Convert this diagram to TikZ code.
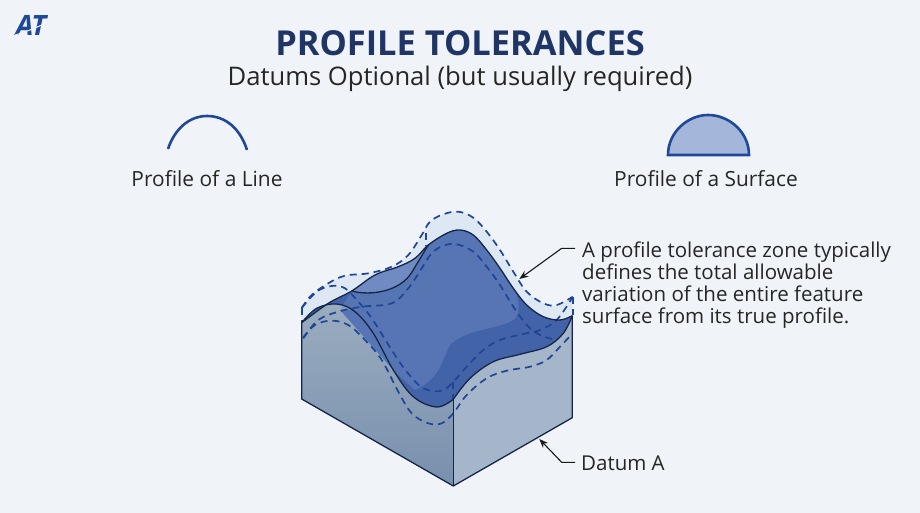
\documentclass[tikz,border=0pt]{standalone}
\usepackage{fontspec}
\setmainfont{Open Sans}
\usetikzlibrary{arrows.meta}
\definecolor{pagebg}{HTML}{F0F4F8}
\definecolor{navy}{HTML}{1F3566}
\definecolor{iconblue}{HTML}{1F4899}
\definecolor{iconfill}{HTML}{A4B7DA}
\definecolor{inkline}{HTML}{14264A}
\definecolor{dashblue}{HTML}{1E4596}
\definecolor{halo}{HTML}{DEE8F3}
\definecolor{topdark}{HTML}{4263A8}
\definecolor{topmid}{HTML}{5775B4}
\definecolor{toplight}{HTML}{6F8BC2}
\definecolor{lefttop}{HTML}{9AACBE}
\definecolor{leftlow}{HTML}{7890AE}
\definecolor{rightface}{HTML}{A6B6CA}
\def\frontleft{-- plot[smooth,tension=.6] coordinates {(301.7,322.7) (316.7,308.3) (336.7,304) (355,311.7) (373.3,333.3) (393.3,370) (413.3,396.7) (436.7,407) (453.3,399.3)}}
\def\frontright{-- plot[smooth,tension=.6] coordinates {(453.3,399.3) (470,378.3) (493.3,361.7) (520,354.3) (546.7,346.7) (563.3,333.3) (572.3,315.7)}}
\def\backrev{-- plot[smooth,tension=.6] coordinates {(572.3,315.7) (560,320) (543.3,316.7) (526.7,305) (513.3,288.3) (500,268.3) (486.7,250) (473.3,235) (460,230) (446.7,233.3) (428.3,245) (415,258.3) (398.3,266.7) (375,275) (351.7,291) (328.3,303.3) (301.7,322.7)}}
\def\upperback{-- plot[smooth,tension=.6] coordinates {(301.7,308) (311.7,295) (328.3,283.3) (345,275.7) (368.3,273.3) (391.7,266.7) (408.3,255) (421.7,235) (430,221.7) (443.3,214.3) (458.3,211.7) (473.3,217.7) (486.7,231.7) (500,250) (513.3,271.7) (526.7,291.7) (543.3,303.3) (556.7,305) (572.7,296.7)}}
\tikzset{
  icontext/.style={font=\fontsize{20.9}{22}\selectfont,text=black!85,inner sep=0pt},
  bodytext/.style={font=\fontsize{20.5}{22}\selectfont,text=black!85,inner sep=0pt},
  leader/.style={draw=black!90,line width=1.1pt},
  edgeline/.style={draw=inkline,line width=1.3pt,line join=round},
  zonedash/.style={draw=dashblue,line width=1.7pt,dash pattern=on 7pt off 5pt},
}
\begin{document}
\begin{tikzpicture}[x=1pt,y=-1pt]
  \useasboundingbox (0,0) rectangle (920,513);
  \fill[pagebg] (0,0) rectangle (920,513);

  % logo
  \node[inner sep=0pt,text=iconblue,font=\fontsize{28}{28}\bfseries\itshape\selectfont] (logo) at (31,25) {AT};
  \draw[pagebg,line width=1pt] (15,35) .. controls (26,32) and (38,27) .. (48,22);

  % titles
  \node[inner sep=0pt,text=navy,font=\fontsize{34.4}{34}\bfseries\selectfont] (title) at (460,43) {PROFILE TOLERANCES};
  \node[inner sep=0pt,text=black!85,font=\fontsize{25.6}{26}\selectfont] (subtitle) at (460,79) {Datums Optional (but usually required)};

  % symbols
  \draw[iconblue,line width=2.6pt] (168,149) .. controls (175,128) and (190,116) .. (207,116) .. controls (225,116) and (240,128) .. (247,150);
  \draw[iconblue,fill=iconfill,line width=2.6pt] (668,155) .. controls (668,132) and (688,115) .. (708,115) .. controls (729,115) and (749,132) .. (749,155) -- cycle;
  \node[icontext] (linelabel) at (207,179) {Profile of a Line};
  \node[icontext] (surfacelabel) at (706,179) {Profile of a Surface};

  % halo above the surface
  \fill[halo] (301.7,308) \upperback -- (572.3,315.7) \backrev -- cycle;

  % block faces
  \fill[top color=lefttop,bottom color=leftlow] (453.3,486) -- (301.7,399) \frontleft -- cycle;
  \fill[rightface] (453.3,399.3) \frontright -- (572.3,417.7) -- (453.3,486) -- cycle;

  % top surface
  \fill[topdark] (301.7,322.7) \frontleft \frontright \backrev -- cycle;
  \fill[topmid] (340,310) .. controls (380,308) and (425,305) .. (440,270) .. controls (446,255) and (450,245) .. (454,231) -- (460,230) -- (473.3,235) -- (486.7,250) -- (500,268.3) -- (515,291) .. controls (521,305) and (520,318) .. (510,322) .. controls (490,330) and (465,330) .. (450,345) .. controls (440,365) and (440,378) .. (415,390) -- (395,372) -- cycle;
  \fill[toplight] plot[smooth,tension=.6] coordinates {(428.3,245) (415,258.3) (398.3,266.7) (375,275) (351.7,291)} .. controls (370,296) and (400,292) .. (412,272) -- cycle;
  \fill[toplight,opacity=.45] (351.7,291) .. controls (370,296) and (400,292) .. (412,272) -- (428.3,245) .. controls (436,240) and (448,233) .. (454,231) .. controls (450,245) and (446,255) .. (440,270) .. controls (425,305) and (380,308) .. (340,310) -- cycle;

  % dashed zone limits
  \draw[zonedash] (301.7,308) \upperback;
  \draw[zonedash] plot[smooth,tension=.6] coordinates {(301.7,308) (316.7,291.7) (331.7,286) (345,288.3) (358.3,301.7) (371.7,318.3) (391.7,350) (406.7,371.7) (423.3,388.3) (441.7,390.7) (453.3,381.7) (466.7,366.7) (483.3,350) (500,340) (523.3,334) (540,330) (556.7,320) (572.7,297)};
  \draw[zonedash] plot[smooth,tension=.6] coordinates {(303,338) (318.3,320) (338.3,311.7) (361.7,306.7) (391.7,303.3) (408.3,288.3) (421.7,268.3) (431.7,253.3) (443.3,245.7) (456.7,244.3) (473.3,251.7) (486.7,266.7) (500,285) (513.3,306.7) (526.7,325) (540,335) (556,340)};
  \draw[zonedash] plot[smooth,tension=.6] coordinates {(303.3,338.3) (315,325) (331.7,320.7) (348.3,325) (365,340) (381.7,360) (398.3,391.7) (411.7,413.3) (428.3,423.3) (441.7,423.3) (453.3,413.3) (466.7,395) (486.7,378.3) (506.7,370.7) (530,366.7) (546.7,360) (560,346.7) (572.7,333.3)};
  \draw[zonedash] (301.7,308) -- (301.7,322);
  \draw[zonedash] (425.7,233) -- (425.7,246);
  \draw[zonedash] (572.7,297) -- (572.7,315);
  \draw[zonedash] (453.3,382) -- (453.3,399);

  % block edges
  \draw[edgeline] (301.7,322.7) \frontleft;
  \draw[edgeline] (453.3,399.3) \frontright;
  \draw[edgeline] (572.3,315.7) \backrev;
  \draw[edgeline] (351.7,291) .. controls (370,296) and (400,292) .. (412,272) -- (428.3,245);
  \draw[edgeline] (301.7,322.7) -- (301.7,399) -- (453.3,486) -- (572.3,417.7) -- (572.3,315.7);
  \draw[edgeline] (453.3,399.3) -- (453.3,486);

  % callouts
  \node[bodytext,anchor=north west,align=left] (zonetext) at (582,242) {A profile tolerance zone typically\\defines the total allowable\\variation of the entire feature\\surface from its true profile.};
  \node[bodytext,anchor=west] (datumlabel) at (581,463) {Datum A};
  \coordinate (zonestub) at (575,248.3);
  \coordinate (zonebend) at (561.7,248.3);
  \coordinate (zonetip) at (519.3,279);
  \coordinate (datumstub) at (575,462.3);
  \coordinate (datumbend) at (561.7,462.3);
  \coordinate (datumtip) at (539.3,439);
  \draw[leader,-{Stealth[length=9pt,width=7pt]}] (zonestub) -- (zonebend) -- (zonetip);
  \draw[leader,-{Stealth[length=9pt,width=7pt]}] (datumstub) -- (datumbend) -- (datumtip);
\end{tikzpicture}
\end{document}
